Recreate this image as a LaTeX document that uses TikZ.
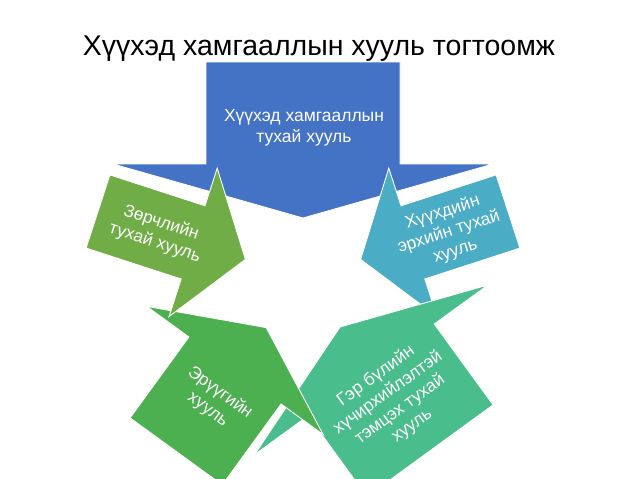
\documentclass[tikz,border=0pt]{standalone}
\usepackage{fontspec}
\setmainfont{Liberation Sans}
\definecolor{cblue}{HTML}{4472C4}
\definecolor{clg}{HTML}{70AD47}
\definecolor{cteal}{HTML}{4BACC6}
\definecolor{cdg}{HTML}{4CAF50}
\definecolor{cdt}{HTML}{4ABD8C}
\begin{document}
\begin{tikzpicture}[x=1pt,y=-1pt,
  shp/.style={draw=white,line width=0.9pt,line join=miter},
  tx/.style={text=white,font=\fontsize{17.5}{20.5}\selectfont,align=center,inner sep=0pt}]
\useasboundingbox (0,0) rectangle (638,479);
\clip (0,0) rectangle (638,479);
\fill[white] (0,0) rectangle (638,479);
% title
\node[anchor=base,font=\fontsize{28.5}{32}\selectfont] (title) at (319,55) {Хүүхэд хамгааллын хууль тогтоомж};
% blue (top)
\filldraw[shp,fill=cblue] (206,62) -- (400,62) -- (400,164) -- (493,164) -- (303,218) -- (113,164) -- (206,164) -- cycle;
% teal (upper right)
\filldraw[shp,fill=cteal] (496.1,174.9) -- (401,205.8) -- (388.8,168.2) -- (360.6,259.4) -- (437,316.6) -- (424.8,279) -- (519.9,248.1) -- cycle;
% dark teal (lower right)
\filldraw[shp,fill=cdt] (488,285) -- (340,327) -- (254.4,454.8) -- (308.1,415.8) -- (366.9,496.7) -- (493.1,404.9) -- (434.3,324) -- cycle;
% dark green (lower left)
\filldraw[shp,fill=cdg] (146.8,306.4) -- (266.2,327.6) -- (323.2,434.6) -- (281.1,404) -- (222.3,484.9) -- (130.1,417.9) -- (188.9,337) -- cycle;
% light green (upper left)
\filldraw[shp,fill=clg] (109.9,174.9) -- (205,205.8) -- (217.2,168.2) -- (245.4,259.4) -- (169,316.6) -- (181.2,279) -- (86.1,248.1) -- cycle;
% texts
\node[tx] (t1) at (304,128) {Хүүхэд хамгааллын\\тухай хууль};
\node[tx,rotate=18] (t2) at (449,232) {Хүүхдийн\\эрхийн тухай\\хууль};
\node[tx,rotate=36] (t3) at (394,401) {Гэр бүлийн\\хүчирхийлэлтэй\\тэмцэх тухай\\хууль};
\node[tx,rotate=-36] (t4) at (214,401) {Эрүүгийн\\хууль};
\node[tx,rotate=-18] (t5) at (158,233) {Зөрчлийн\\тухай хууль};
\end{tikzpicture}
\end{document}
